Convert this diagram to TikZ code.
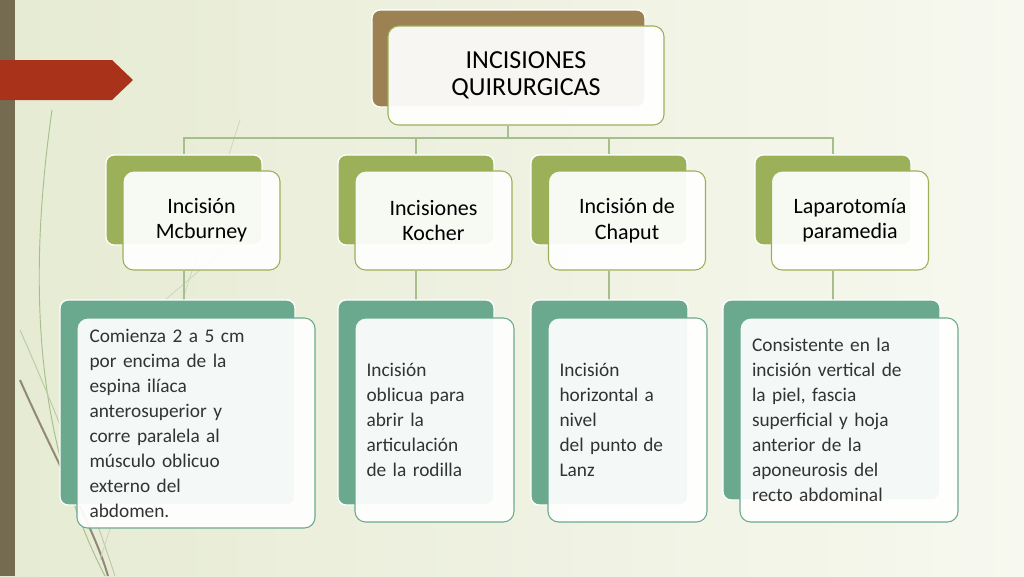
\documentclass[tikz,border=0pt]{standalone}
\usepackage{fontspec}
\setmainfont{Carlito}
\definecolor{bgA}{HTML}{E6EBD3}
\definecolor{bgB}{HTML}{F7F8EF}
\definecolor{brn}{HTML}{9C8152}
\definecolor{grn}{HTML}{9BB058}
\definecolor{tel}{HTML}{6BA98F}
\definecolor{lin}{HTML}{A6BF8C}
\definecolor{bar}{HTML}{756B50}
\definecolor{red1}{HTML}{A8321A}
\begin{document}
\begin{tikzpicture}[x=0.75pt,y=-0.75pt,
  backg/.style={draw=white,line width=1pt,rounded corners=6pt,fill=#1},
  front/.style={draw=#1,line width=0.8pt,rounded corners=8pt,fill=white,fill opacity=0.93,text opacity=1,inner sep=0pt,align=center},
  conn/.style={draw=lin,line width=0.8pt},
  ttl/.style={font=\fontsize{16.5}{19}\selectfont,text=black},
  body/.style={font=\fontsize{14.5}{18.75}\selectfont,text=black!80,align=left}]
\newcommand{\jl}[1]{\makebox[\hsize][s]{#1}\\}
\useasboundingbox (0,0) rectangle (1024,576);
\shade[left color=bgA, right color=bgB] (0,0) rectangle (1024,576);
\fill[bar] (0,0) rectangle (15,576);
\fill[red1] (0,60) -- (112,60) -- (133,80) -- (112,100) -- (0,100) -- cycle;
% decorative curves
\draw[lin,line width=0.7pt] (52,110) .. controls (25,300) and (40,450) .. (105,576);
\draw[lin!80,line width=0.7pt] (20,330) .. controls (60,420) and (90,500) .. (115,576);
\draw[bar!80,line width=1.5pt] (20,380) .. controls (60,470) and (95,530) .. (108,576);
\draw[lin!60,line width=0.6pt] (100,560) -- (240,120);
\draw[lin!60,line width=0.6pt] (165,300) -- (235,240);
% top
\node[backg=brn,minimum width=273pt*0.75,minimum height=97pt*0.75] (topb) at (508.5,58.5) {};
\node[front=grn,minimum width=276pt*0.75,minimum height=99pt*0.75,font=\fontsize{19.5}{20}\selectfont] (topf) at (526,75.5) {INCISIONES\\QUIRURGICAS};
\coordinate (hub) at (508,138);
\draw[conn] (topf.south -| hub) -- (hub);
% level 2
\foreach \n/\bx/\fx/\txt in {a/184/201.5/{Incisión\\Mcburney},b/416/433.5/{Incisiones\\Kocher},c/609/627/{Incisión de\\Chaput},d/833/850/{Laparotomía\\paramedia}}{
  \node[backg=grn,minimum width=156pt*0.75,minimum height=90pt*0.75] (\n b) at (\bx,200) {};
  \node[front=grn,ttl,minimum width=157pt*0.75,minimum height=99pt*0.75] (\n f) at (\fx,220.5) {\txt};
  \draw[conn] (hub) -| (\n b.north);
  \draw[conn] (\n f.south -| \n b) -- ++(0,30);
}
% level 3
\node[backg=tel,minimum width=235pt*0.75,minimum height=205pt*0.75] (ab3) at (177.5,402.5) {};
\node[backg=tel,minimum width=156pt*0.75,minimum height=205pt*0.75] (bb3) at (416,402.5) {};
\node[backg=tel,minimum width=157pt*0.75,minimum height=205pt*0.75] (cb3) at (609.5,402.5) {};
\node[backg=tel,minimum width=217pt*0.75,minimum height=200pt*0.75] (db3) at (831.5,400) {};
\node[front=tel,minimum width=238pt*0.75,minimum height=210pt*0.75] (af3) at (196,423) {};
\node[front=tel,minimum width=159pt*0.75,minimum height=204pt*0.75] (bf3) at (434.5,420) {};
\node[front=tel,minimum width=159pt*0.75,minimum height=204pt*0.75] (cf3) at (627.5,420) {};
\node[front=tel,minimum width=218pt*0.75,minimum height=204pt*0.75] (df3) at (849,420) {};
\node[body,text width=213pt*0.75] (at) at (af3) {\jl{Comienza 2 a 5 cm}\jl{por encima de la}\jl{espina ilíaca}\jl{anterosuperior y}\jl{corre paralela al}\jl{músculo oblicuo}\jl{externo del}abdomen.};
\node[body,text width=136pt*0.75] (bt) at (bf3) {Incisión\\\jl{oblicua para}\jl{abrir la}articulación\\de la rodilla};
\node[body,text width=136pt*0.75] (ct) at (cf3) {Incisión\\\jl{horizontal a}nivel\\\jl{del punto de}Lanz};
\node[body,text width=194pt*0.75] (dt) at (df3) {\jl{Consistente en la}\jl{incisión vertical de}\jl{la piel, fascia}\jl{superficial y hoja}\jl{anterior de la}\jl{aponeurosis del}recto abdominal};
\end{tikzpicture}
\end{document}
